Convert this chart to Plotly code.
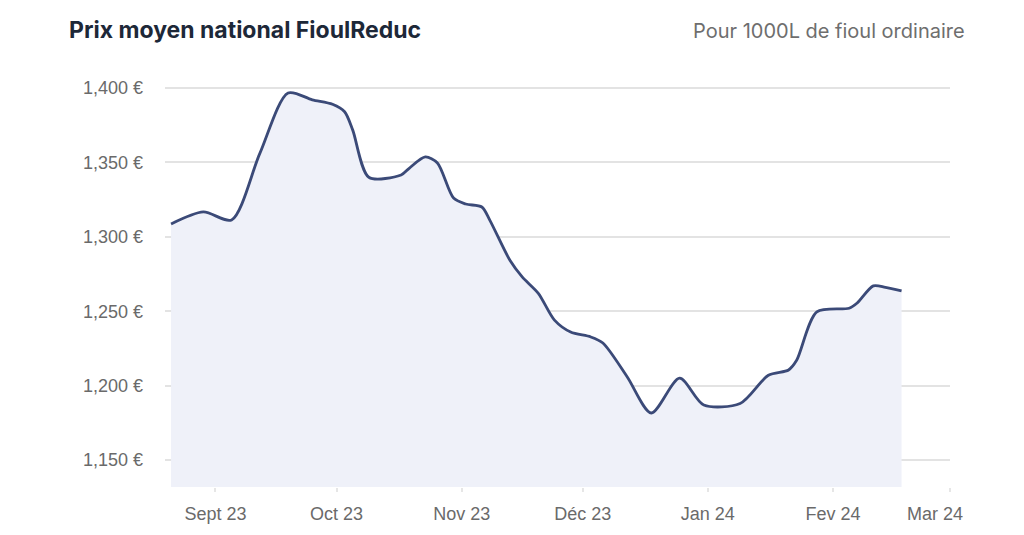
import plotly.graph_objects as go

dates = ["2023-08-21", "2023-08-29", "2023-09-05", "2023-09-12", "2023-09-19", "2023-09-25",
         "2023-09-30", "2023-10-03", "2023-10-05", "2023-10-09", "2023-10-17", "2023-10-19",
         "2023-10-23", "2023-10-26", "2023-10-30", "2023-11-02", "2023-11-06", "2023-11-08",
         "2023-11-13", "2023-11-16", "2023-11-20", "2023-11-24", "2023-11-28", "2023-12-03",
         "2023-12-06", "2023-12-12", "2023-12-18", "2023-12-25", "2023-12-31", "2024-01-09",
         "2024-01-16", "2024-01-21", "2024-01-23", "2024-01-28", "2024-02-05", "2024-02-07",
         "2024-02-11", "2024-02-14", "2024-02-18"]
prices = [1308.6, 1316.7, 1311.3, 1356.0, 1396.6, 1392.0,
          1389.0, 1384.0, 1371.8, 1340.0, 1341.5, 1346.0,
          1353.6, 1349.6, 1326.0, 1322.0, 1320.0, 1311.0,
          1284.0, 1273.0, 1262.0, 1244.0, 1236.0, 1232.7,
          1228.6, 1206.0, 1181.6, 1205.0, 1187.0, 1188.0,
          1207.0, 1210.5, 1217.0, 1249.5, 1252.0, 1255.5,
          1267.0, 1266.0, 1263.6]

tick_dates = ["2023-09-01", "2023-10-01", "2023-11-01", "2023-12-01",
              "2024-01-01", "2024-02-01", "2024-03-01"]
tick_labels = ["Sept 23", "Oct 23", "Nov 23", "Déc 23", "Jan 24", "Fev 24",
               "Mar 24" + "\u00a0" * 6]
y_ticks = [1150, 1200, 1250, 1300, 1350, 1400]
y_labels = ["1,150 €", "1,200 €", "1,250 €", "1,300 €", "1,350 €", "1,400 €"]

fig = go.Figure()
fig.add_trace(go.Scatter(
    x=dates, y=prices, mode="lines",
    line=dict(color="#3b4a78", width=2.8, shape="spline", smoothing=0.8),
    fill="tozeroy", fillcolor="#eff1f9",
    hoverinfo="x+y", showlegend=False,
))

tick_font = dict(family="Liberation Sans, Arial, sans-serif", size=18, color="#6a6a6a")

fig.update_layout(
    width=1024, height=535,
    margin=dict(l=165, r=74, t=80, b=48, autoexpand=False),
    paper_bgcolor="white", plot_bgcolor="white",
    font=dict(family="Liberation Sans, Arial, sans-serif", color="#666666", size=14),
    xaxis=dict(
        type="date", automargin=False,
        range=["2023-08-19 12:00", "2024-03-01"],
        tickmode="array", tickvals=tick_dates, ticktext=tick_labels,
        showgrid=False, zeroline=False, showline=False,
        ticks="outside", ticklen=4, tickcolor="#e6e6e6", tickwidth=2,
        ticklabelstandoff=6,
        tickfont=tick_font,
    ),
    yaxis=dict(
        automargin=False,
        range=[1131.9, 1405.3],
        tickmode="array", tickvals=y_ticks, ticktext=y_labels,
        showgrid=True, gridcolor="#e3e3e3", gridwidth=1.5,
        zeroline=False, showline=False,
        ticklabelstandoff=21,
        tickfont=tick_font,
    ),
    annotations=[
        dict(text="<b>Prix moyen national FioulReduc</b>", xref="paper", yref="paper",
             x=-0.1248, y=1.0, xanchor="left", yanchor="bottom", yshift=34,
             showarrow=False, font=dict(size=23, color="#1d2838", family="Inter, sans-serif")),
        dict(text="Pour 1000L de fioul ordinaire", xref="paper", yref="paper",
             x=1.0, y=1.0, xanchor="right", yanchor="bottom", xshift=17, yshift=35,
             showarrow=False, font=dict(size=20, color="#6e6e6e", family="Inter, sans-serif")),
    ],
)

fig.write_html("out.html")
